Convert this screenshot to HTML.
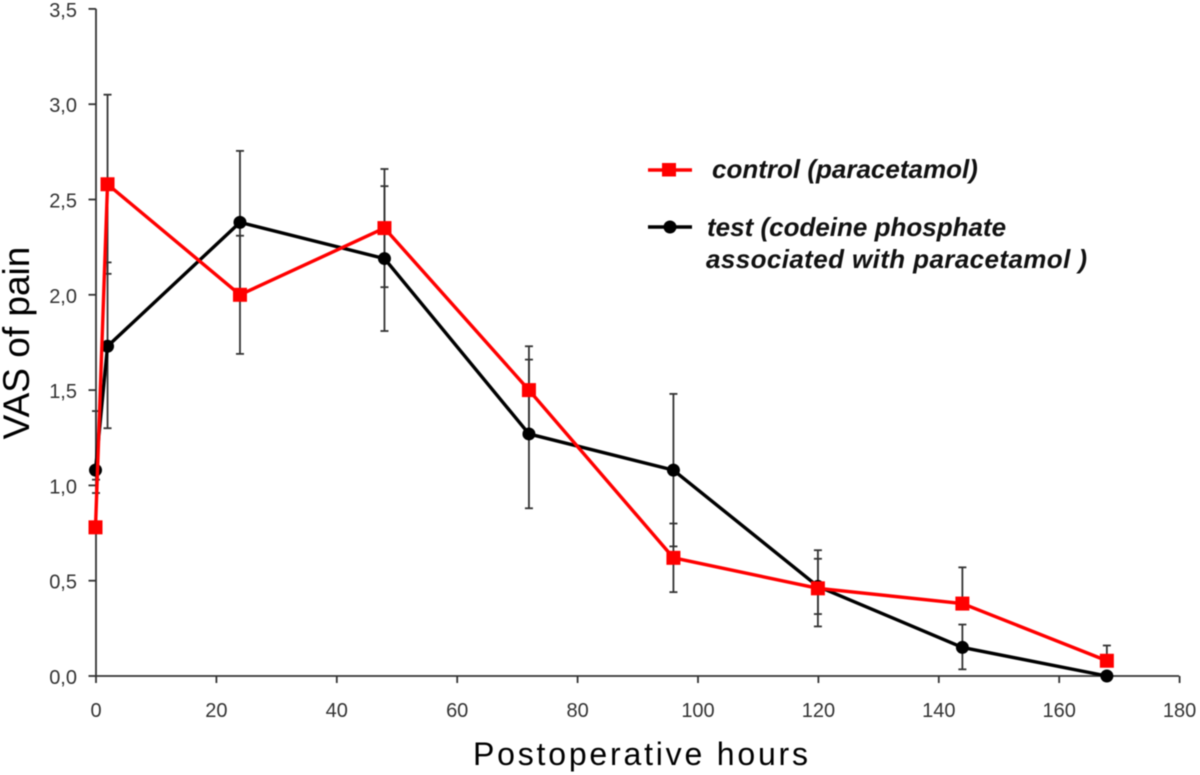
<!DOCTYPE html>
<html>
<head>
<meta charset="utf-8">
<title>VAS of pain by postoperative hours</title>
<style>
html,body{margin:0;padding:0;background:#fff;width:1200px;height:775px;overflow:hidden}
svg{display:block;font-family:"Liberation Sans",sans-serif}
.soft{filter:blur(.55px)}
</style>
</head>
<body>
<svg id="chart" width="1200" height="775" viewBox="0 0 1200 775" xmlns="http://www.w3.org/2000/svg">
  <g id="plot" class="soft"></g>
  <g id="labels" class="soft"></g>
  <text class="soft" transform="translate(29,343) rotate(-90)" text-anchor="middle" font-size="37" fill="#000">VAS of pain</text>
  <text class="soft" x="473" y="765" font-size="32" letter-spacing="2.8" fill="#000">Postoperative hours</text>
  <g class="soft">
    <g>
      <line x1="648" y1="170" x2="692" y2="170" stroke="#f00" stroke-width="3.5"/>
      <rect x="662" y="163" width="14" height="13.5" fill="#f00"/>
      <text x="712" y="178" font-size="26" font-style="italic" font-weight="bold" fill="#111">control (paracetamol)</text>
    </g>
    <g>
      <line x1="648" y1="227" x2="692" y2="227" stroke="#000" stroke-width="3.5"/>
      <circle cx="670" cy="227" r="6.5" fill="#000"/>
      <text x="707" y="236" font-size="26" font-style="italic" font-weight="bold" fill="#111">test (codeine phosphate</text>
      <text x="706" y="268" font-size="26" font-style="italic" font-weight="bold" fill="#111" textLength="381" lengthAdjust="spacing">associated with paracetamol )</text>
    </g>
  </g>
</svg>
<script>
const hours = [0, 2, 24, 48, 72, 96, 120, 144, 168];
const controlValues = [0.78, 2.58, 2.0, 2.35, 1.5, 0.62, 0.46, 0.38, 0.08];
const testValues = [1.08, 1.73, 2.38, 2.19, 1.27, 1.08, 0.47, 0.15, 0.0];
const controlUpper = [0.96, 3.05, 2.31, 2.66, 1.73, 0.80, 0.66, 0.57, 0.16];
const controlLower = [0.78, 2.11, 1.69, 2.04, 1.27, 0.44, 0.26, 0.38, 0.08];
const testUpper = [1.39, 2.17, 2.755, 2.57, 1.66, 1.48, 0.615, 0.27, 0.0];
const testLower = [1.03, 1.30, 2.0, 1.81, 0.88, 0.68, 0.325, 0.035, 0.0];
const xTicks = [0, 20, 40, 60, 80, 100, 120, 140, 160, 180];
const yTicks = [0, 0.5, 1, 1.5, 2, 2.5, 3, 3.5];
const yTickLabels = ['0,0', '0,5', '1,0', '1,5', '2,0', '2,5', '3,0', '3,5'];

const SVG_NS = 'http://www.w3.org/2000/svg';
const xScale = function (v) { return 95.5 + v * 6.02; };
const yScale = function (v) { return 676 - v * 190.6; };
const plot = document.getElementById('plot');
const labels = document.getElementById('labels');

function make(parent, tag, props) {
  const node = document.createElementNS(SVG_NS, tag);
  Object.keys(props).forEach(function (k) { node.setAttribute(k, props[k]); });
  parent.appendChild(node);
  return node;
}

function axisLine(x1, y1, x2, y2, name) {
  const el = make(plot, 'line', { x1: x1, y1: y1, x2: x2, y2: y2, stroke: '#333', 'stroke-width': 1.8 });
  
  
}

axisLine(xScale(0) + 0.5, yScale(3.5), xScale(0) + 0.5, yScale(0), 'y-axis-line');
axisLine(xScale(0) + 0.5, yScale(0), xScale(180), yScale(0), 'x-axis-line');

xTicks.forEach(function (t) {
  axisLine(xScale(t) + 0.5, yScale(0), xScale(t) + 0.5, yScale(0) + 7, 'x-tick');
  const el = make(labels, 'text', { x: xScale(t) + 0.5, y: 717, 'text-anchor': 'middle', 'font-size': 20, fill: '#333' });
  el.textContent = String(t);
  
  
});

yTicks.forEach(function (t, i) {
  axisLine(xScale(0) - 7, yScale(t), xScale(0) + 0.5, yScale(t), 'y-tick');
  const el = make(labels, 'text', { x: 77, y: yScale(t) + 8, 'text-anchor': 'end', 'font-size': 20, fill: '#333' });
  el.textContent = yTickLabels[i];
  
  
});

function errorBars(upper, lower, name) {
  hours.forEach(function (h, i) {
    const x = xScale(h) + (h === 0 ? 0.5 : 0);
    const g = make(plot, 'g', { stroke: '#333', 'stroke-width': 1.8, fill: 'none' });
    
    
    make(g, 'line', { x1: x, y1: yScale(upper[i]), x2: x, y2: yScale(lower[i]) });
    make(g, 'line', { x1: x - 4, y1: yScale(upper[i]), x2: x + 4, y2: yScale(upper[i]) });
    make(g, 'line', { x1: x - 4, y1: yScale(lower[i]), x2: x + 4, y2: yScale(lower[i]) });
  });
}

function seriesLine(values, color, name) {
  const pts = hours.map(function (h, i) { return xScale(h) + ',' + yScale(values[i]); }).join(' ');
  const el = make(plot, 'polyline', { points: pts, fill: 'none', stroke: color, 'stroke-width': 3.4, 'stroke-linejoin': 'round' });
  
  
}

errorBars(testUpper, testLower, 'test-error-bar');
errorBars(controlUpper, controlLower, 'control-error-bar');
seriesLine(testValues, '#000', 'test-series-line');
hours.forEach(function (h, i) {
  const el = make(plot, 'circle', { cx: xScale(h), cy: yScale(testValues[i]), r: 6.5, fill: '#000' });
  
  
});
seriesLine(controlValues, '#f00', 'control-series-line');
hours.forEach(function (h, i) {
  const el = make(plot, 'rect', { x: xScale(h) - 7, y: yScale(controlValues[i]) - 7, width: 14, height: 14, fill: '#f00' });
  
  
});
</script>
</body>
</html>
